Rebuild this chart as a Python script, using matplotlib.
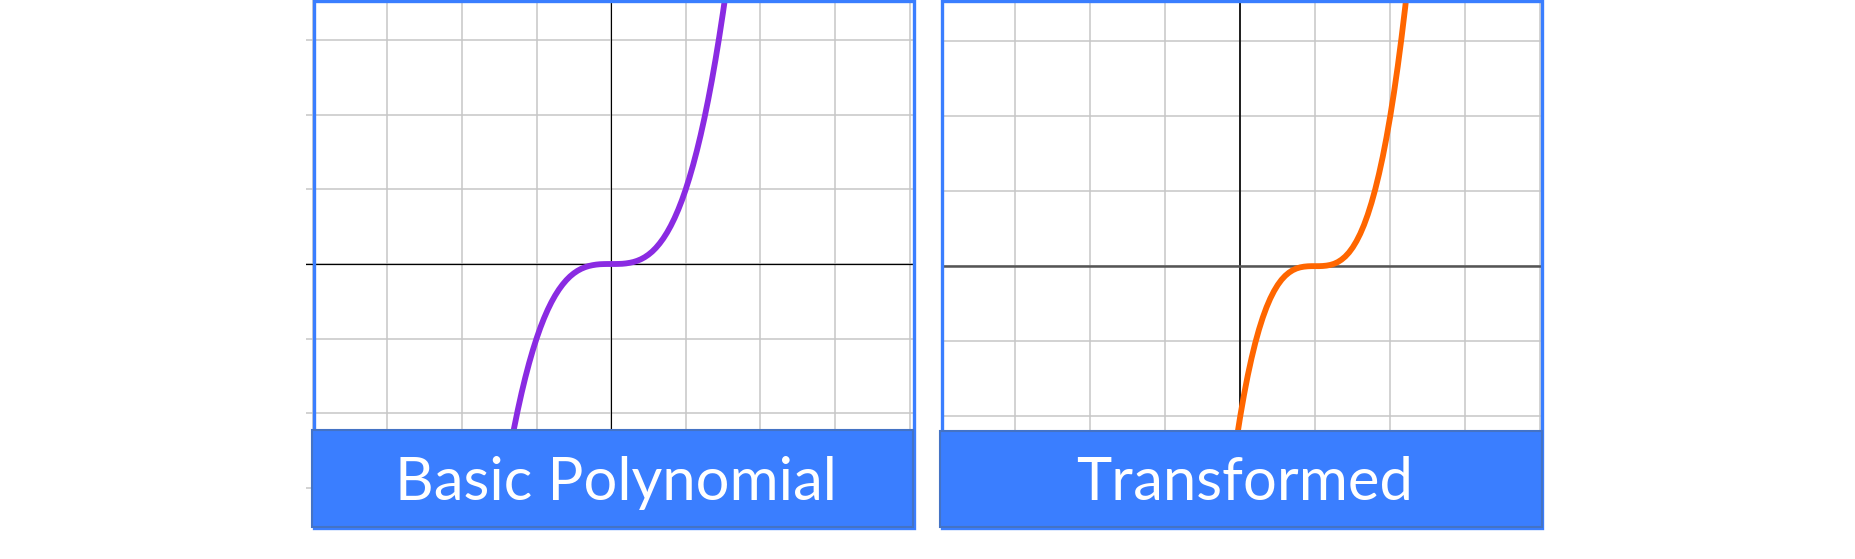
import matplotlib
matplotlib.use("Agg")
import matplotlib.pyplot as plt
from matplotlib.patches import Rectangle

# ---- data ----
titles = ["Basic Polynomial", "Transformed"]
grid_ticks = [-4, -3, -2, -1, 0, 1, 2, 3, 4]

basic_x = [-1.40, -1.35, -1.30, -1.25, -1.20, -1.15, -1.10, -1.05, -1.00, -0.95, -0.90,
           -0.85, -0.80, -0.75, -0.70, -0.65, -0.60, -0.55, -0.50, -0.45, -0.40, -0.35,
           -0.30, -0.25, -0.20, -0.15, -0.10, -0.05, 0.00, 0.05, 0.10, 0.15, 0.20, 0.25,
           0.30, 0.35, 0.40, 0.45, 0.50, 0.55, 0.60, 0.65, 0.70, 0.75, 0.80, 0.85, 0.90,
           0.95, 1.00, 1.05, 1.10, 1.15, 1.20, 1.25, 1.30, 1.35, 1.40, 1.45, 1.50, 1.55, 1.60]
basic_y = [-2.744, -2.460, -2.197, -1.953, -1.728, -1.521, -1.331, -1.158, -1.000, -0.857, -0.729,
           -0.614, -0.512, -0.422, -0.343, -0.275, -0.216, -0.166, -0.125, -0.091, -0.064, -0.043,
           -0.027, -0.016, -0.008, -0.003, -0.001, 0.000, 0.000, 0.000, 0.001, 0.003, 0.008, 0.016,
           0.027, 0.043, 0.064, 0.091, 0.125, 0.166, 0.216, 0.275, 0.343, 0.422, 0.512, 0.614, 0.729,
           0.857, 1.000, 1.158, 1.331, 1.521, 1.728, 1.953, 2.197, 2.460, 2.744, 3.049, 3.375, 3.724, 4.096]

trans_x = [-0.10, -0.05, 0.00, 0.05, 0.10, 0.15, 0.20, 0.25, 0.30, 0.35, 0.40, 0.45, 0.50,
           0.55, 0.60, 0.65, 0.70, 0.75, 0.80, 0.85, 0.90, 0.95, 1.00, 1.05, 1.10, 1.15,
           1.20, 1.25, 1.30, 1.35, 1.40, 1.45, 1.50, 1.55, 1.60, 1.65, 1.70, 1.75, 1.80,
           1.85, 1.90, 1.95, 2.00, 2.05, 2.10, 2.15, 2.20, 2.25, 2.30]
trans_y = [-2.662, -2.315, -2.000, -1.715, -1.458, -1.229, -1.024, -0.844, -0.686, -0.549,
           -0.432, -0.333, -0.250, -0.182, -0.128, -0.086, -0.054, -0.031, -0.016, -0.007,
           -0.002, -0.000, 0.000, 0.000, 0.002, 0.007, 0.016, 0.031, 0.054, 0.086, 0.128,
           0.182, 0.250, 0.333, 0.432, 0.549, 0.686, 0.844, 1.024, 1.229, 1.458, 1.715,
           2.000, 2.315, 2.662, 3.042, 3.456, 3.906, 4.394]

# ---- styling ----
W, H = 1856, 559
BLUE = "#3A7EFF"
BLUE_EDGE = "#4473C5"
GRID = "#C6C6C6"

fig = plt.figure(figsize=(W / 100, H / 100), dpi=100)
fig.patch.set_facecolor("white")


def fx(px):
    return px / W


def fy(py):
    return 1 - py / H


def make_panel(x0, x1, y0, y1, xlim, ylim, xs, ys, color,
               vcol, vlw, hcol, hlw):
    ax = fig.add_axes([fx(x0), fy(y1), fx(x1) - fx(x0), fy(y0) - fy(y1)])
    ax.set_xticks(grid_ticks)
    ax.set_yticks(grid_ticks)
    ax.set_xlim(*xlim)
    ax.set_ylim(*ylim)
    ax.grid(True, color=GRID, linewidth=1.1)
    ax.tick_params(length=0, labelbottom=False, labelleft=False)
    for s in ax.spines.values():
        s.set_visible(False)
    ax.axvline(0, color=vcol, linewidth=vlw, zorder=2)
    ax.axhline(0, color=hcol, linewidth=hlw, zorder=2)
    ax.plot(xs, ys, color=color, linewidth=4.2, zorder=3,
            solid_joinstyle="round", solid_capstyle="butt")
    return ax


# left panel (grid image slightly wider than the blue frame on the left)
make_panel(306, 914, 0, 528, (-4.09, 4.06), (-3.54, 3.54),
           basic_x, basic_y, "#8A2BE2", "black", 0.8, "black", 0.9)
# right panel
make_panel(942.5, 1542.5, 0, 528, (-3.97, 4.03), (-3.49, 3.547),
           trans_x, trans_y, "#FF6600", "black", 1.2, "#555555", 1.8)

# blue frames
for (x0, x1) in [(314, 914), (942.5, 1542.5)]:
    fig.patches.append(Rectangle((fx(x0), fy(528)), fx(x1) - fx(x0), fy(1) - fy(528),
                                 transform=fig.transFigure, facecolor="none",
                                 edgecolor=BLUE, linewidth=2.4, zorder=5))

# label boxes
label_boxes = [(312, 913.5, 429.5), (940.5, 1542, 430.5)]
for (x0, x1, ytop), title in zip(label_boxes, titles):
    fig.patches.append(Rectangle((fx(x0), fy(527)), fx(x1) - fx(x0), fy(ytop) - fy(527),
                                 transform=fig.transFigure, facecolor=BLUE,
                                 edgecolor=BLUE_EDGE, linewidth=1.5, zorder=6))
    fig.text(fx((x0 + x1) / 2 + 3), fy(500), title, ha="center", va="baseline",
             color="white", fontsize=43, family=["Lato", "DejaVu Sans"], zorder=7)

fig.savefig("out.png", dpi=100)
